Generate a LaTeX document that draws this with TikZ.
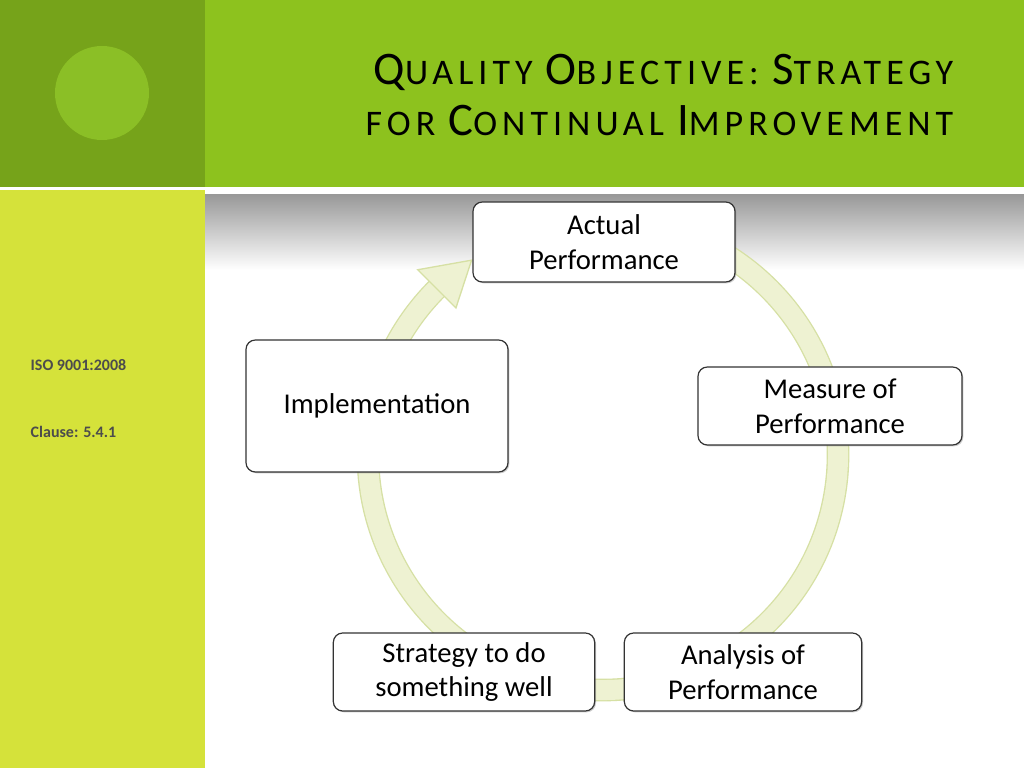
\documentclass[tikz,border=0pt]{standalone}
\usepackage{fontspec}
\setmainfont{Carlito}
\newfontfamily\spaced[LetterSpace=14]{Carlito}
\usetikzlibrary{calc,shadows}
\definecolor{bar}{HTML}{8DC21E}
\definecolor{sq}{HTML}{76A31A}
\definecolor{circ}{HTML}{8BBF26}
\definecolor{strip}{HTML}{D5E23A}
\definecolor{ringfill}{HTML}{EEF2D2}
\definecolor{ringedge}{HTML}{D6E0A4}
\tikzset{box/.style={draw=black!80,line width=0.9pt,rounded corners=7pt,fill=white,align=center,font=\fontsize{21.5}{26}\selectfont,inner sep=0pt,drop shadow={shadow xshift=1pt,shadow yshift=-1pt,opacity=0.4}}}
\begin{document}
\begin{tikzpicture}[x=0.75pt,y=0.75pt]
\useasboundingbox (0,0) rectangle (1024,768);
\fill[white] (0,0) rectangle (1024,768);
\fill[strip] (0,0) rectangle (205,581);
\fill[bar] (205,581) rectangle (1024,768);
\fill[sq] (0,581) rectangle (205,768);
\fill[circ] (102,675) circle (47);
\fill[white] (0,578) rectangle (1024,581);
\shade[top color=black!40,bottom color=white] (205,498) rectangle (1024,573);
\node[anchor=east,align=right,font=\spaced\fontsize{27}{38}\selectfont] (title) at (958,673)
 {{\fontsize{35}{35}\selectfont Q}UALITY {\fontsize{35}{35}\selectfont O}BJECTIVE: {\fontsize{35}{35}\selectfont S}TRATEGY\\
 FOR {\fontsize{35}{35}\selectfont C}ONTINUAL {\fontsize{35}{35}\selectfont I}MPROVEMENT};
\node[anchor=west,font=\bfseries\fontsize{12}{12}\selectfont,text=black!70] (iso) at (26,403) {ISO 9001:2008};
\node[anchor=west,font=\bfseries\fontsize{12}{12}\selectfont,text=black!70] (cl) at (26,336) {Clause: 5.4.1};
\coordinate (c) at (603,313);
% ring
\draw[ringedge,line width=17] ($(c)+(80:235)$) arc (80:-225:235);
\draw[ringfill,line width=15] ($(c)+(80:235)$) arc (80:-225:235);
\filldraw[fill=ringfill,draw=ringedge,line width=1] ($(c)+(135:208)$) -- ($(c)+(135:262)$) -- ($(c)+(124:235)$) -- cycle;
\node[box,minimum width=196.5,minimum height=60] (ap) at (604,526) {Actual\\Performance};
\node[box,minimum width=198,minimum height=58.5] (mp) at (830,362) {Measure of\\Performance};
\node[box,minimum width=196.5,minimum height=99] (im) at (377,362) {Implementation};
\node[box,minimum width=196,minimum height=58.5] (st) at (464,96) {Strategy to do\\something well};
\node[box,minimum width=178,minimum height=58.5] (an) at (743,96) {Analysis of\\Performance};
\end{tikzpicture}
\end{document}
